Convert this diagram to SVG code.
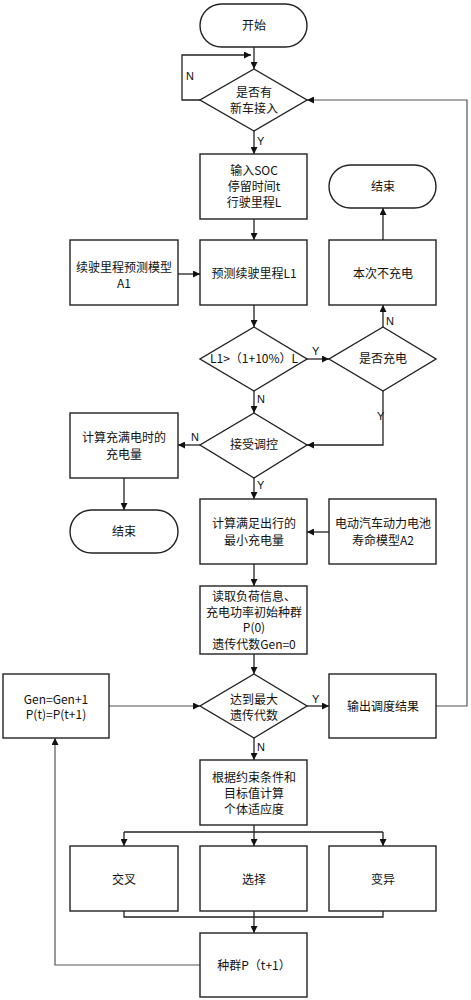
<svg xmlns="http://www.w3.org/2000/svg" width="471" height="1000" viewBox="0 0 471 1000">
<style>
.n{fill:#fff;stroke:#222;stroke-width:1.4}
.t{font-family:"Noto Sans CJK SC","Liberation Sans",sans-serif;font-size:12px;fill:#111;text-anchor:middle}
.l{font-family:"Liberation Sans","Noto Sans CJK SC",sans-serif;font-size:11px;fill:#111}
.c{fill:none;stroke:#222;stroke-width:1.3}
.g{fill:none;stroke:#555;stroke-width:1.2}
</style>
<defs>
<marker id="a" viewBox="0 0 10 10" refX="10" refY="5" markerWidth="7" markerHeight="7" markerUnits="userSpaceOnUse" orient="auto">
<path d="M0,0 L10,5 L0,10 z" fill="#111"/>
</marker>
</defs>
<rect width="471" height="1000" fill="#fff"/>
<g id="connectors">
<path class="c" d="M254,47 V69" marker-end="url(#a)"/>
<path class="c" d="M200,100 H182 V55 H251" marker-end="url(#a)"/>
<path class="c" d="M254,131 V154" marker-end="url(#a)"/>
<path class="c" d="M254,219 V240" marker-end="url(#a)"/>
<path class="c" d="M178,274 H200" marker-end="url(#a)"/>
<path class="c" d="M383,240 V208" marker-end="url(#a)"/>
<path class="c" d="M254,305 V327" marker-end="url(#a)"/>
<path class="c" d="M307,359 H329" marker-end="url(#a)"/>
<path class="c" d="M383,327 V305" marker-end="url(#a)"/>
<path class="c" d="M254,391 V413" marker-end="url(#a)"/>
<path class="c" d="M383,391 V445 H307" marker-end="url(#a)"/>
<path class="c" d="M200,445 H178" marker-end="url(#a)"/>
<path class="c" d="M124,478 V510" marker-end="url(#a)"/>
<path class="c" d="M254,478 V499" marker-end="url(#a)"/>
<path class="c" d="M329,532 H307" marker-end="url(#a)"/>
<path class="c" d="M254,564 V586" marker-end="url(#a)"/>
<path class="c" d="M254,654 V674" marker-end="url(#a)"/>
<path class="c" d="M307,706 H329" marker-end="url(#a)"/>
<path class="g" d="M436,706 H467 V100 H307" marker-end="url(#a)"/>
<path class="g" d="M109,706 H200" marker-end="url(#a)"/>
<path class="c" d="M254,738 V760" marker-end="url(#a)"/>
<path class="c" d="M254,825 V846" marker-end="url(#a)"/>
<path class="c" d="M124,832 H383"/>
<path class="c" d="M124,832 V846" marker-end="url(#a)"/>
<path class="c" d="M383,832 V846" marker-end="url(#a)"/>
<path class="c" d="M124,911 V917 H383 V911"/>
<path class="c" d="M254,911 V933" marker-end="url(#a)"/>
<path class="g" d="M200,965 H55 V738" marker-end="url(#a)"/>
<text class="l" x="186" y="80">N</text>
<text class="l" x="257" y="145">Y</text>
<text class="l" x="312" y="355">Y</text>
<text class="l" x="386" y="325">N</text>
<text class="l" x="257" y="403">N</text>
<text class="l" x="377" y="420">Y</text>
<text class="l" x="191" y="441">N</text>
<text class="l" x="257" y="489">Y</text>
<text class="l" x="312" y="703">Y</text>
<text class="l" x="257" y="751">N</text>
</g>
<g id="start"><rect class="n" x="200" y="4" width="107" height="43" rx="21.5"/><text class="t" x="254" y="30">开始</text></g>
<g id="newcar"><polygon class="n" points="254,69 307,100 254,131 200,100"/><text class="t" x="254" y="97">是否有</text><text class="t" x="254" y="113">新车接入</text></g>
<g id="input"><rect class="n" x="200" y="154" width="107" height="65"/><text class="t" x="254" y="175">输入SOC</text><text class="t" x="254" y="191">停留时间t</text><text class="t" x="254" y="207">行驶里程L</text></g>
<g id="predict"><rect class="n" x="200" y="240" width="107" height="65"/><text class="t" x="254" y="278">预测续驶里程L1</text></g>
<g id="modelA1"><rect class="n" x="70" y="240" width="108" height="65"/><text class="t" x="124" y="272">续驶里程预测模型</text><text class="t" x="124" y="288">A1</text></g>
<g id="end1"><rect class="n" x="329" y="165" width="107" height="43" rx="21.5"/><text class="t" x="383" y="191">结束</text></g>
<g id="nocharge"><rect class="n" x="329" y="240" width="107" height="65"/><text class="t" x="383" y="278">本次不充电</text></g>
<g id="compare"><polygon class="n" points="254,327 307,359 254,391 200,359"/><text class="t" x="254" y="363">L1&gt;（1+10%）L</text></g>
<g id="charge"><polygon class="n" points="383,327 436,359 383,391 329,359"/><text class="t" x="383" y="363">是否充电</text></g>
<g id="accept"><polygon class="n" points="254,413 307,445 254,478 200,445"/><text class="t" x="254" y="449">接受调控</text></g>
<g id="full"><rect class="n" x="70" y="413" width="108" height="65"/><text class="t" x="124" y="442">计算充满电时的</text><text class="t" x="124" y="459">充电量</text></g>
<g id="end2"><rect class="n" x="70" y="510" width="108" height="43" rx="21.5"/><text class="t" x="124" y="536">结束</text></g>
<g id="mincharge"><rect class="n" x="200" y="499" width="107" height="65"/><text class="t" x="254" y="528">计算满足出行的</text><text class="t" x="254" y="545">最小充电量</text></g>
<g id="modelA2"><rect class="n" x="329" y="499" width="107" height="65"/><text class="t" x="383" y="528">电动汽车动力电池</text><text class="t" x="383" y="545">寿命模型A2</text></g>
<g id="read"><rect class="n" x="200" y="586" width="107" height="68"/><text class="t" x="254" y="601">读取负荷信息、</text><text class="t" x="254" y="617">充电功率初始种群</text><text class="t" x="254" y="632">P(0)</text><text class="t" x="254" y="649">遗传代数Gen=0</text></g>
<g id="maxgen"><polygon class="n" points="254,674 307,706 254,738 200,706"/><text class="t" x="254" y="704">达到最大</text><text class="t" x="254" y="720">遗传代数</text></g>
<g id="output"><rect class="n" x="329" y="674" width="107" height="64"/><text class="t" x="383" y="711">输出调度结果</text></g>
<g id="gen"><rect class="n" x="3" y="674" width="106" height="64"/><text class="t" x="56" y="704">Gen=Gen+1</text><text class="t" x="56" y="719">P(t)=P(t+1)</text></g>
<g id="fitness"><rect class="n" x="200" y="760" width="107" height="65"/><text class="t" x="254" y="782">根据约束条件和</text><text class="t" x="254" y="798">目标值计算</text><text class="t" x="254" y="814">个体适应度</text></g>
<g id="cross"><rect class="n" x="70" y="846" width="108" height="65"/><text class="t" x="124" y="884">交叉</text></g>
<g id="select"><rect class="n" x="200" y="846" width="107" height="65"/><text class="t" x="254" y="884">选择</text></g>
<g id="mutate"><rect class="n" x="329" y="846" width="107" height="65"/><text class="t" x="383" y="884">变异</text></g>
<g id="pop"><rect class="n" x="200" y="933" width="107" height="64"/><text class="t" x="254" y="970">种群P（t+1）</text></g>
</svg>
